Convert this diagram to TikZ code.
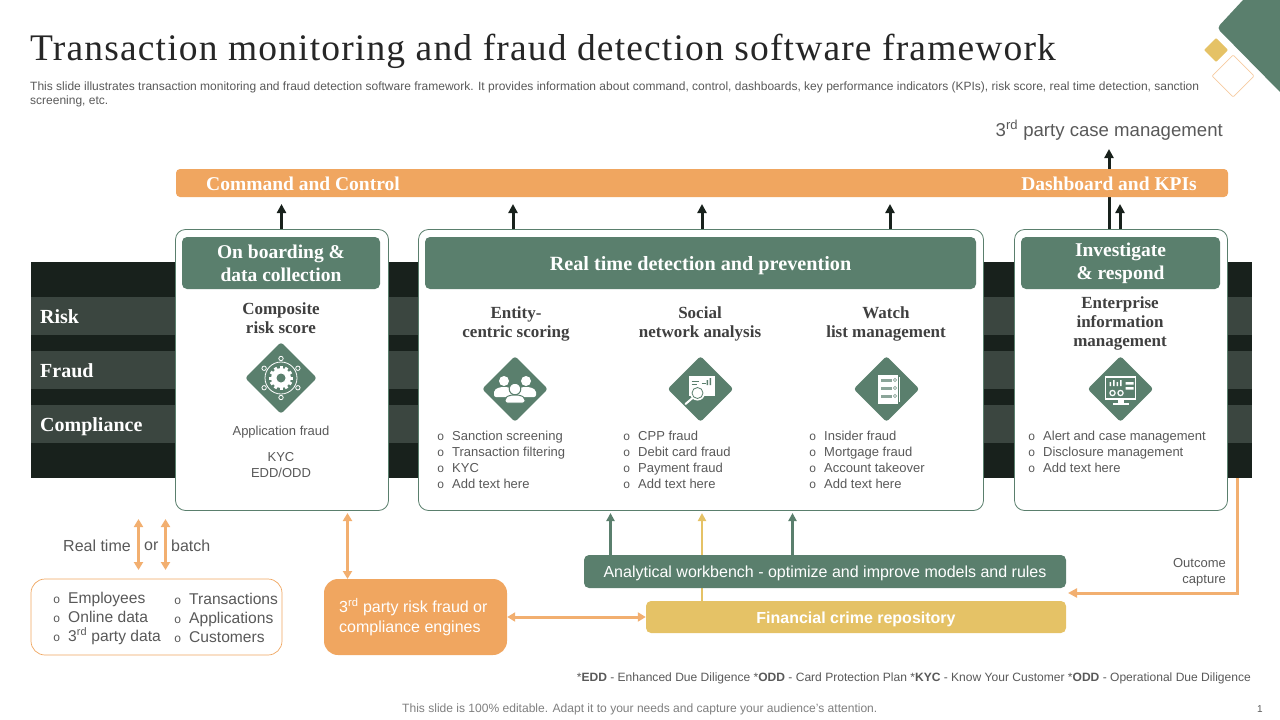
\documentclass[tikz,border=0pt]{standalone}
\usepackage{fontspec}
\setmainfont{Liberation Serif}
\setsansfont{Liberation Sans}
\setmonofont{Liberation Mono}
\usetikzlibrary{arrows.meta, shapes.geometric, positioning, calc}

\definecolor{sage}{HTML}{5A7F6D}
\definecolor{peach}{HTML}{F0A660}
\definecolor{straw}{HTML}{E5C266}
\definecolor{bandDark}{HTML}{18211C}
\definecolor{bandLight}{HTML}{3B4640}
\definecolor{bodyGrey}{HTML}{595959}
\definecolor{footGrey}{HTML}{7F7F7F}

\newcommand{\fsz}[1]{\fontsize{#1}{#1}\selectfont}
\newcommand{\lsz}[2]{\fontsize{#1}{#2}\selectfont}
\newcommand{\bl}{\makebox[15pt][l]{\ttfamily\fsz{12}o}}
\newcommand{\rdmark}{\smash{\textsuperscript{rd}}}
\newcommand{\dropby}[2]{\raisebox{-#1}[\height][\depth]{#2}}

\tikzset{
    txt/.style={inner sep=0pt, text=bodyGrey, font=\sffamily\lsz{13}{16}, align=left},
    card/.style={draw=sage, fill=white, line width=0.8pt, rounded corners=10pt},
    headbox/.style={fill=sage, rounded corners=5pt, text=white, align=center, font=\bfseries\lsz{19.5}{23}},
    subhead/.style={inner sep=0pt, text=black!75, align=center, font=\bfseries\lsz{17}{19}},
    stripelabel/.style={inner sep=0pt, text=white, font=\bfseries\fsz{20}},
    barlabel/.style={inner sep=0pt, text=white, font=\bfseries\fsz{19.5}},
    icondiamond/.style={diamond, fill=sage, inner sep=0pt, rounded corners=3pt, minimum width=66pt, minimum height=66pt},
    tip/.style={-{Triangle[width=9pt,length=9pt]}},
    blackarrow/.style={tip, draw=bandDark, line width=3pt},
    greenarrow/.style={-{Triangle[width=8pt,length=8pt]}, draw=sage, line width=2.6pt},
    goldarrow/.style={-{Triangle[width=8pt,length=8pt]}, draw=straw, line width=2.6pt},
    peacharrow/.style={{Triangle[width=9pt,length=8pt]}-{Triangle[width=9pt,length=8pt]}, draw=peach!90!white, line width=3pt},
    pics/gearicon/.style={code={
        \draw[white, line width=0.8pt] (0,0) circle (16);
        \foreach \a in {30,90,150,210,270,330} {
            \draw[white, line width=0.8pt, fill=sage] (\a:19.5) circle (2.2);
            \draw[white, line width=3pt] (\a+30:7) -- (\a+30:12);
            \draw[white, line width=3pt] (\a:7) -- (\a:12);
        }
        \fill[white] (0,0) circle (10);
        \fill[sage] (0,0) circle (4.5);
    }},
    pics/peopleicon/.style={code={
        \foreach \x/\y in {-11/-8, 11/-8} {
            \fill[white] (\x,\y) circle (5);
            \fill[white, rounded corners=2pt] (\x-10,\y+16) -- (\x-10,\y+9) -- (\x-4,\y+6) -- (\x+4,\y+6) -- (\x+10,\y+9) -- (\x+10,\y+16) -- cycle;
        }
        \fill[white, draw=sage, line width=1pt] (0,0) circle (5.8);
        \fill[white, draw=sage, line width=1pt, rounded corners=2pt] (-10,14) -- (-10,9) -- (-5,6) -- (5,6) -- (10,9) -- (10,14) -- cycle;
    }},
    pics/searchicon/.style={code={
        \fill[white] (-12,-13) rectangle (14,7);
        \draw[sage, line width=0.8pt] (-9,-8) -- (-2,-8) (-9,-5) -- (-4,-5) (1,-6) -- (5,-6);
        \fill[sage] (6,-9) rectangle (7.5,-4) (9,-11) rectangle (10.5,-4);
        \draw[white, fill=white, line width=1pt] (-3,4) circle (7);
        \draw[sage, line width=0.8pt] (-3,4) circle (5.5);
        \draw[white, line width=2pt, line cap=round] (-8,9) -- (-15,15);
    }},
    pics/listicon/.style={code={
        \fill[white, draw=sage, line width=0.4pt] (-6,-13) rectangle (14,13);
        \fill[white, draw=sage, line width=0.4pt] (-9,-15) rectangle (12,15);
        \foreach \y in {-9,-1,7} {
            \fill[sage!70] (-6,\y-1.5) rectangle (5,\y+2);
            \draw[sage!70, line width=0.8pt] (8.5,\y) circle (1.6);
        }
    }},
    pics/screenicon/.style={code={
        \draw[white, line width=1.4pt] (-15,-12) rectangle (15,10);
        \fill[white] (-3,10) rectangle (3,14);
        \fill[white] (-8,14) rectangle (8,15.5);
        \fill[white] (-11,-3) rectangle (-9.5,-7) (-7.5,-3) rectangle (-6,-9) (-4,-3) rectangle (-2.5,-7) (-0.5,-3) rectangle (1,-9);
        \draw[white, line width=1.2pt] (-8,4) circle (2.6) (0,4) circle (2.6);
        \fill[white] (5,-7) rectangle (13,-4.5) (5,-2) rectangle (13,0.5);
    }},
}

\begin{document}
\begin{tikzpicture}[x=1pt, y=-1pt]
    \useasboundingbox (0,0) rectangle (1280,720);

    % corner marks
    \fill[sage] (1243,0) [rounded corners=4pt] -- (1217,28) [sharp corners] -- (1280,92) -- (1280,0) -- cycle;
    \fill[straw, rounded corners=1pt] (1216,38) -- (1228,50) -- (1216,62) -- (1204,50) -- cycle;
    \draw[peach!60!white, line width=0.7pt, rounded corners=1pt] (1233,55) -- (1254,76) -- (1233,97) -- (1212,76) -- cycle;

    % title and intro
    \node[inner sep=0pt, anchor=base west, text=black!85, font=\lsz{37.5}{37.5}\addfontfeature{LetterSpace=3.1}] (title) at (30,60) {Transaction monitoring and fraud detection software framework};
    \node[txt, anchor=north west, font=\sffamily\lsz{12}{14.3}] (intro) at (30,81.5) {This slide illustrates transaction monitoring and fraud detection software framework. It provides information about command, control, dashboards, key performance indicators (KPIs), risk score, real time detection, sanction\\screening, etc.};
    \node[txt, anchor=base east, font=\sffamily\fsz{18.6}] (caseMgmt) at (1223,136) {3\textsuperscript{rd} party case management};

    % dark band behind the cards
    \fill[bandDark] (31,262) rectangle (1252,478);
    \fill[bandLight] (31,297) rectangle (1252,335);
    \fill[bandLight] (31,351) rectangle (1252,389);
    \fill[bandLight] (31,405) rectangle (1252,443);
    \node[stripelabel, anchor=base west] (risk) at (40,323) {Risk};
    \node[stripelabel, anchor=base west] (fraud) at (40,377) {Fraud};
    \node[stripelabel, anchor=base west] (compliance) at (40,431) {Compliance};

    % ends of the arrows
    \coordinate (tapA) at (281.5,229);
    \coordinate (tapB) at (513,229);
    \coordinate (tapC) at (702,229);
    \coordinate (tapD) at (890,229);
    \coordinate (tapE) at (1120,229);
    \coordinate (tapF) at (1109,229);
    \coordinate (endA) at (281.5,204);
    \coordinate (endB) at (513,204);
    \coordinate (endC) at (702,204);
    \coordinate (endD) at (890,204);
    \coordinate (endE) at (1120,204);
    \coordinate (endF) at (1109,149);
    \draw[blackarrow] (tapA) -- (endA);
    \draw[blackarrow] (tapB) -- (endB);
    \draw[blackarrow] (tapC) -- (endC);
    \draw[blackarrow] (tapD) -- (endD);
    \draw[blackarrow] (tapE) -- (endE);
    \draw[blackarrow] (tapF) -- (endF);

    \fill[peach, rounded corners=4pt] (176,169) rectangle (1228,197);
    \node[barlabel, anchor=west] (command) at (206,184) {Command and Control};
    \node[barlabel, anchor=east] (dashboard) at (1197,184) {Dashboard and KPIs};

    % cards
    \node[card, minimum width=213pt, minimum height=281pt] (cardA) at (282,370) {};
    \node[card, minimum width=565pt, minimum height=281pt] (cardB) at (701,370) {};
    \node[card, minimum width=213pt, minimum height=281pt] (cardC) at (1121,370) {};
    \node[headbox, minimum width=198pt, minimum height=52pt] (headA) at (281,263) {On boarding \&\\data collection};
    \node[headbox, minimum width=551pt, minimum height=52pt, font=\bfseries\fsz{20.2}] (headB) at (700.5,263) {\dropby{3pt}{Real time detection and prevention}};
    \node[headbox, minimum width=199pt, minimum height=52pt] (headC) at (1120.5,263) {Investigate\\\& respond};

    \node[subhead] (scoreA) at (281,318.5) {Composite\\risk score};
    \node[subhead] (scoreB) at (516,323.5) {Entity-\\centric scoring};
    \node[subhead] (scoreC) at (700,323.5) {Social\\network analysis};
    \node[subhead] (scoreD) at (886,323.5) {Watch\\list management};
    \node[subhead] (scoreE) at (1120,323) {Enterprise\\information\\management};

    % icons
    \node[icondiamond, minimum width=72pt, minimum height=72pt] (iconA) at (281,378) {};
    \node[icondiamond] (iconB) at (515,389) {};
    \node[icondiamond] (iconC) at (700.5,389) {};
    \node[icondiamond] (iconD) at (886.5,389) {};
    \node[icondiamond] (iconE) at (1120.5,389) {};
    \pic at (iconA) {gearicon};
    \pic at (iconB) {peopleicon};
    \pic at (iconC) {searchicon};
    \pic at (iconD) {listicon};
    \pic at (iconE) {screenicon};

    % card texts
    \node[txt, align=center] (appFraud) at (281,432) {Application fraud};
    \node[txt, align=center] (kyc) at (281,465) {KYC\\EDD/ODD};
    \node[txt, anchor=west] (listB) at (437,460) {\bl Sanction screening\\\bl Transaction filtering\\\bl KYC\\\bl Add text here};
    \node[txt, anchor=west] (listC) at (623,460) {\bl CPP fraud\\\bl Debit card fraud\\\bl Payment fraud\\\bl Add text here};
    \node[txt, anchor=west] (listD) at (809,460) {\bl Insider fraud\\\bl Mortgage fraud\\\bl Account takeover\\\bl Add text here};
    \node[txt, anchor=west] (listE) at (1028,452) {\bl Alert and case management\\\bl Disclosure management\\\bl Add text here};

    % lower boxes
    \coordinate (tapG) at (610.5,555);
    \coordinate (tapH) at (792.5,555);
    \coordinate (tapR) at (702,601);
    \coordinate (endG) at (610.5,513);
    \coordinate (endH) at (792.5,513);
    \coordinate (endR) at (702,513);
    \draw[greenarrow] (tapG) -- (endG);
    \draw[greenarrow] (tapH) -- (endH);
    \draw[goldarrow] (tapR) -- (endR);

    \node[fill=sage, rounded corners=5pt, minimum width=482pt, minimum height=33pt, inner sep=0pt, text=white, font=\sffamily\fsz{16}] (workbench) at (825,571.5) {\dropby{2pt}{Analytical workbench - optimize and improve models and rules}};
    \node[fill=straw, rounded corners=5pt, minimum width=420pt, minimum height=32pt, inner sep=0pt, text=white, font=\sffamily\bfseries\fsz{16}] (repository) at (856,617) {\dropby{2pt}{Financial crime repository}};
    \node[fill=peach, rounded corners=14pt, minimum width=183pt, minimum height=76pt, inner sep=0pt] (engines) at (415.5,617) {};
    \node[inner sep=0pt, anchor=west, text=white, align=left, font=\sffamily\lsz{16}{19.5}] (enginesText) at (339,618.5) {3\rdmark{} party risk fraud or\\compliance engines};
    \node[draw=peach, fill=white, line width=0.7pt, rounded corners=14pt, minimum width=251pt, minimum height=76pt, inner sep=0pt] (dataBox) at (156.5,617) {};
    \node[txt, anchor=west, font=\sffamily\lsz{15.6}{19}] (dataLeft) at (53,618) {\bl Employees\\\bl Online data\\\bl 3\rdmark{} party data};
    \node[txt, anchor=west, font=\sffamily\lsz{15.6}{19}] (dataRight) at (174,618) {\bl Transactions\\\bl Applications\\\bl Customers};

    \node[txt, anchor=west, font=\sffamily\fsz{16}] (realTime) at (63,546) {Real time};
    \node[txt, anchor=west, font=\sffamily\fsz{16}] (orWord) at (144,546.5) {or};
    \node[txt, anchor=west, font=\sffamily\fsz{16}] (batch) at (171,546) {batch};

    \coordinate (rtTopA) at (138.5,519);
    \coordinate (rtBotA) at (138.5,570);
    \coordinate (rtTopB) at (165.5,519);
    \coordinate (rtBotB) at (165.5,570);
    \coordinate (engTop) at (347.5,513);
    \coordinate (engBot) at (347.5,579);
    \coordinate (outStart) at (1237,478);
    \coordinate (outCorner) at (1237,593);
    \coordinate (outEnd) at (1068,593);
    \draw[peacharrow] (rtTopA) -- (rtBotA);
    \draw[peacharrow] (rtTopB) -- (rtBotB);
    \draw[peacharrow] (engTop) -- (engBot);
    \draw[peacharrow] (engines.east) -- (repository.west);
    \draw[tip, draw=peach!90!white, line width=3pt] (outStart) -- (outCorner) -- (outEnd);
    \node[txt, anchor=east, align=right, font=\sffamily\lsz{13}{16}] (outcome) at (1226,572) {Outcome\\capture};

    % foot lines
    \node[txt, anchor=east, font=\sffamily\fsz{12.05}] (legend) at (1251,678) {*\textbf{EDD} - Enhanced Due Diligence *\textbf{ODD} - Card Protection Plan *\textbf{KYC} - Know Your Customer *\textbf{ODD} - Operational Due Diligence};
    \node[txt, anchor=west, text=footGrey, font=\sffamily\fsz{12.05}] (footer) at (402,709) {This slide is 100\% editable. Adapt it to your needs and capture your audience’s attention.};
    \node[txt, anchor=center, font=\sffamily\fsz{10}] (pageNo) at (1260,709) {1};
\end{tikzpicture}
\end{document}
